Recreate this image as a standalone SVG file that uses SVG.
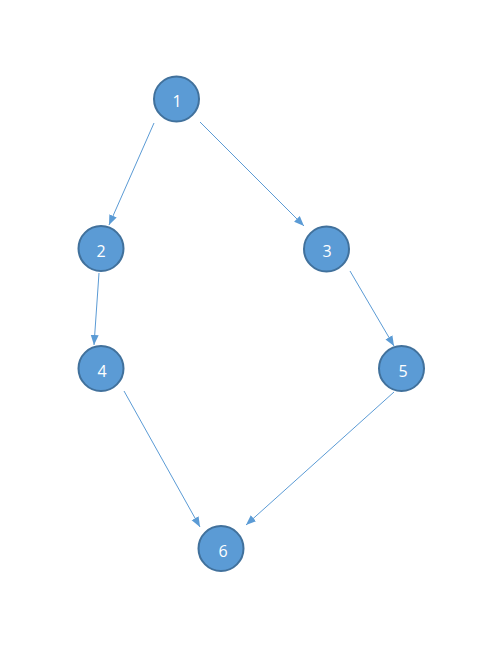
<svg xmlns="http://www.w3.org/2000/svg" width="490" height="651" viewBox="0 0 490 651">
<defs>
<style>
.node circle{fill:#5B9BD5;stroke:#41719C;stroke-width:2}
.node text{fill:#fff;font-family:"Open Sans","Liberation Sans",sans-serif;font-size:16px;text-anchor:middle;dominant-baseline:central}
.edge{stroke:#5B9BD5;stroke-width:1;fill:none;marker-end:url(#arr)}
</style>
<marker id="arr" viewBox="0 0 10 10" refX="10" refY="5" markerWidth="10" markerHeight="10" markerUnits="userSpaceOnUse" orient="auto">
<path d="M0,1 L10,5 L0,9 z" fill="#5B9BD5"/>
</marker>
</defs>
<rect width="490" height="651" fill="#fff"/>
<g id="connectors">
<line class="edge" x1="154" y1="123" x2="109" y2="225"/>
<line class="edge" x1="200" y1="122" x2="304" y2="226"/>
<line class="edge" x1="99" y1="273" x2="94" y2="345"/>
<line class="edge" x1="350" y1="271" x2="394" y2="346"/>
<line class="edge" x1="124" y1="391" x2="200" y2="527"/>
<line class="edge" x1="394" y1="392" x2="246" y2="525"/>
</g>
<g id="node1" class="node"><circle cx="176.5" cy="99" r="22.5"/><text x="177" y="101">1</text></g>
<g id="node2" class="node"><circle cx="101" cy="248.5" r="22.5"/><text x="101" y="251">2</text></g>
<g id="node3" class="node"><circle cx="326.5" cy="249" r="22.5"/><text x="327" y="251">3</text></g>
<g id="node4" class="node"><circle cx="101" cy="368.5" r="22.5"/><text x="102" y="371">4</text></g>
<g id="node5" class="node"><circle cx="401.5" cy="368.5" r="22.5"/><text x="403" y="371">5</text></g>
<g id="node6" class="node"><circle cx="221" cy="548.5" r="22.5"/><text x="223" y="551">6</text></g>
</svg>
